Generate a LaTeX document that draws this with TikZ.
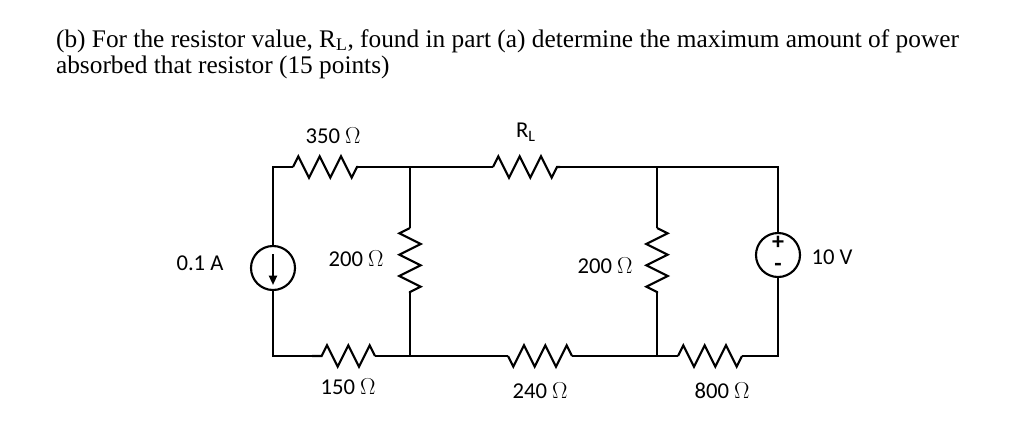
\documentclass[tikz,border=0pt]{standalone}
\usepackage{fontspec}
\setmainfont{Liberation Serif}
\newfontfamily\lab{Carlito}
\usetikzlibrary{decorations.pathmorphing,arrows.meta}
\begin{document}
\begin{tikzpicture}[x=0.75pt,y=-0.75pt,line width=1.6pt,
  res/.style={decorate,decoration={zigzag,segment length=16pt,amplitude=8pt}},
  resr/.style={decorate,decoration={zigzag,segment length=16pt,amplitude=8pt,mirror}},
  lbl/.style={font=\lab\fontsize{17}{20}\selectfont,inner sep=0pt},
  src/.style={circle,draw,minimum size=33pt,inner sep=0pt},
  sgn/.style={font=\lab\bfseries\fontsize{18}{18}\selectfont,inner sep=0pt}]
\useasboundingbox (0,0) rectangle (1024,433);
\node[anchor=base west,inner sep=0pt,font=\fontsize{19}{22}\selectfont] at (55,47) {(b) For the resistor value, R\textsubscript{L}, found in part (a) determine the maximum amount of power};
\node[anchor=base west,inner sep=0pt,font=\fontsize{19}{22}\selectfont] at (55,73) {absorbed that resistor (15 points)};
% corners and junctions
\coordinate (tl) at (273,167); \coordinate (bl) at (273,356);
\coordinate (ta) at (410,167); \coordinate (ba) at (410,356);
\coordinate (tb) at (657,167); \coordinate (bb) at (657,356);
\coordinate (tr) at (778,167); \coordinate (br) at (778,356);
\node[src] (I) at (273,268) {};
\node[src] (V) at (778,255) {};
\draw[-{Triangle[length=7pt,width=6pt]},line width=1.5pt] (273,254) -- (273,285);
\node[sgn] at (778,243) {+};
\node[sgn] at (778,267) {-};
% resistor end coordinates
\coordinate (r1a) at (293,167); \coordinate (r1b) at (358,167);
\coordinate (rLa) at (493,167); \coordinate (rLb) at (560,167);
\coordinate (r2a) at (410,228); \coordinate (r2b) at (410,293);
\coordinate (r3a) at (657,228); \coordinate (r3b) at (657,293);
\coordinate (r4a) at (312,356); \coordinate (r4b) at (375,356);
\coordinate (r5a) at (508,356); \coordinate (r5b) at (572,356);
\coordinate (r6a) at (678,356); \coordinate (r6b) at (742,356);
\draw (I.north) -- (tl) -- (r1a);
\draw[res] (r1a) -- (r1b);
\draw (r1b) -- (ta) -- (rLa);
\draw[res] (rLa) -- (rLb);
\draw (rLb) -- (tb) -- (tr) -- (V.north);
\draw (V.south) -- (br) -- (r6b);
\draw[res] (r6b) -- (r6a);
\draw (r6a) -- (bb) -- (r5b);
\draw[resr] (r5b) -- (r5a);
\draw (r5a) -- (ba) -- (r4b);
\draw[resr] (r4b) -- (r4a);
\draw (r4a) -- (bl) -- (I.south);
\draw (ta) -- (r2a); \draw[resr] (r2a) -- (r2b); \draw (r2b) -- (ba);
\draw (tb) -- (r3a); \draw[res] (r3a) -- (r3b); \draw (r3b) -- (bb);
\node[lbl] at (333,136) {350 $\Omega$};
\node[lbl] at (526,132) {R\textsubscript{L}};
\node[lbl] at (356,259) {200 $\Omega$};
\node[lbl] at (605,266) {200 $\Omega$};
\node[lbl] at (348,387) {150 $\Omega$};
\node[lbl] at (540,391) {240 $\Omega$};
\node[lbl] at (722,391) {800 $\Omega$};
\node[lbl] at (200,263) {0.1 A};
\node[lbl] at (832,257) {10 V};
\end{tikzpicture}
\end{document}
